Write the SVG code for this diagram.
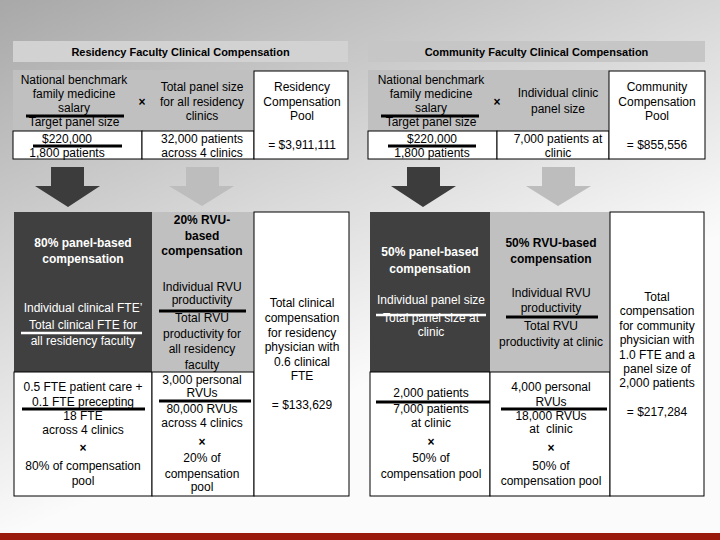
<svg xmlns="http://www.w3.org/2000/svg" width="720" height="540" viewBox="0 0 720 540">
<defs>
<linearGradient id="bg" x1="0" y1="0" x2="193" y2="459" gradientUnits="userSpaceOnUse">
<stop offset="0" stop-color="#a8a8a8"/>
<stop offset="0.6" stop-color="#dadada"/>
<stop offset="1" stop-color="#fbfbfb"/>
</linearGradient>
</defs>
<style>
text{font-family:"Liberation Sans",Arial,sans-serif;font-size:12px;text-anchor:middle;fill:#000}
.t{font-size:11px;font-weight:bold}
.b{font-weight:bold}
.w{fill:#fff}
.gray{fill:#c0c0c0}
.dark{fill:#404040}
.cell{fill:#fff;stroke:#000;stroke-width:1}
.fl{stroke:#000;stroke-width:3}
.flw{stroke:#fff;stroke-width:2.5}
.x{font-weight:bold;font-size:12px}
</style>
<rect width="720" height="540" fill="url(#bg)"/>
<rect x="0" y="533" width="720" height="7" fill="#9a1a0c"/>

<g id="left-header"><rect x="13" y="41" width="335" height="21" fill="#d2d2d2"/><text class="t" x="180.5" y="56">Residency Faculty Clinical Compensation</text></g>
<g id="right-header"><rect x="368" y="41" width="337" height="21" fill="#c6c6c6"/><text class="t" x="536.5" y="56">Community Faculty Clinical Compensation</text></g>

<g id="left-top">
<rect class="gray" x="13" y="70" width="241" height="61"/>
<text x="74" y="84">National benchmark</text><text x="74" y="98">family medicine</text><text x="74" y="112">salary</text><text x="74" y="126">Target panel size</text>
<line class="fl" x1="26" y1="116" x2="124" y2="116"/>
<text class="x" x="142" y="106">×</text>
<text x="202" y="91">Total panel size</text><text x="202" y="105.5">for all residency</text><text x="202" y="120">clinics</text>
<rect class="cell" x="13" y="131" width="129" height="28"/><rect class="cell" x="142" y="131" width="112" height="28"/>
<text x="67" y="143">$220,000</text><line class="fl" x1="33" y1="146" x2="122" y2="146"/><text x="67" y="157">1,800 patients</text>
<text x="202" y="143">32,000 patients</text><text x="202" y="157">across 4 clinics</text>
</g>
<g id="left-pool">
<rect class="cell" x="254" y="71" width="94" height="88"/>
<text x="302" y="91">Residency</text><text x="302" y="105.5">Compensation</text><text x="302" y="120">Pool</text>
<text x="302" y="149">= $3,911,111</text>
</g>

<g id="right-top">
<rect class="gray" x="368" y="70" width="241" height="61"/>
<text x="431" y="84">National benchmark</text><text x="431" y="98">family medicine</text><text x="431" y="112">salary</text><text x="431" y="126">Target panel size</text>
<line class="fl" x1="381" y1="116" x2="479" y2="116"/>
<text class="x" x="497" y="106">×</text>
<text x="558" y="97">Individual clinic</text><text x="558" y="113">panel size</text>
<rect class="cell" x="368" y="131" width="129" height="28"/><rect class="cell" x="497" y="131" width="112" height="28"/>
<text x="432" y="143">$220,000</text><line class="fl" x1="388" y1="146" x2="476" y2="146"/><text x="432" y="157">1,800 patients</text>
<text x="558" y="143">7,000 patients at</text><text x="558" y="157">clinic</text>
</g>
<g id="right-pool">
<rect class="cell" x="609" y="71" width="96" height="88"/>
<text x="657" y="91">Community</text><text x="657" y="105.5">Compensation</text><text x="657" y="120">Pool</text>
<text x="657" y="149">= $855,556</text>
</g>

<g id="connectors">
<polygon fill="#3c3c3c" points="51,167 84,167 84,186 100,186 68,207 35,186 51,186"/>
<polygon fill="#bdbdbd" points="186,167 219,167 219,186 234,186 202,206 169,186 186,186"/>
<polygon fill="#3c3c3c" points="407,167 440,167 440,186 456,186 423,207 391,186 407,186"/>
<polygon fill="#bdbdbd" points="542,167 575,167 575,186 591,186 558,206 526,186 542,186"/>
</g>

<g id="left-panel">
<rect class="dark" x="14" y="212" width="138" height="160"/>
<text class="b w" x="83" y="247">80% panel-based</text><text class="b w" x="83" y="263">compensation</text>
<text class="w" x="83" y="312">Individual clinical FTE’</text><text class="w" x="83" y="329">Total clinical FTE for</text>
<line class="flw" x1="21" y1="333" x2="142" y2="333"/>
<text class="w" x="83" y="345">all residency faculty</text>
<rect class="cell" x="14" y="372" width="138" height="124"/>
<text x="83" y="391">0.5 FTE patient care +</text><text x="83" y="406">0.1 FTE precepting</text>
<line class="fl" x1="22" y1="409" x2="145" y2="409"/>
<text x="83" y="420">18 FTE</text><text x="83" y="434">across 4 clinics</text>
<text class="x" x="83" y="452">×</text>
<text x="83" y="470">80% of compensation</text><text x="83" y="485">pool</text>
</g>
<g id="left-rvu">
<rect class="gray" x="152" y="212" width="102" height="160"/>
<text class="b" x="202" y="224">20% RVU-</text><text class="b" x="202" y="239.5">based</text><text class="b" x="202" y="255">compensation</text>
<text x="202" y="291">Individual RVU</text><text x="202" y="304">productivity</text>
<line class="fl" x1="159" y1="311" x2="246" y2="311"/>
<text x="202" y="322">Total RVU</text><text x="202" y="338">productivity for</text><text x="202" y="353">all residency</text><text x="202" y="369">faculty</text>
<rect class="cell" x="152" y="372" width="102" height="124"/>
<text x="202" y="384">3,000 personal</text><text x="202" y="397">RVUs</text>
<line class="fl" x1="159" y1="401" x2="251" y2="401"/>
<text x="202" y="413">80,000 RVUs</text><text x="202" y="427">across 4 clinics</text>
<text class="x" x="202" y="446">×</text>
<text x="202" y="462">20% of</text><text x="202" y="478">compensation</text><text x="202" y="491">pool</text>
</g>
<g id="left-total">
<rect class="cell" x="254" y="212" width="95" height="284"/>
<text x="302" y="307">Total clinical</text><text x="302" y="322">compensation</text><text x="302" y="337">for residency</text><text x="302" y="351">physician with</text><text x="302" y="366">0.6 clinical</text><text x="302" y="380">FTE</text>
<text x="302" y="409">= $133,629</text>
</g>

<g id="right-panel">
<rect class="dark" x="370" y="212" width="120" height="160"/>
<text class="b w" x="430" y="256">50% panel-based</text><text class="b w" x="430" y="273">compensation</text>
<text class="w" x="431" y="304">Individual panel size</text><text class="w" x="431" y="322">Total panel size at</text>
<line class="flw" x1="376" y1="315" x2="486" y2="315"/>
<text class="w" x="431" y="336">clinic</text>
<rect class="cell" x="370" y="372" width="120" height="124"/>
<text x="431" y="397">2,000 patients</text>
<line class="fl" x1="376" y1="402" x2="490" y2="402"/>
<text x="431" y="413">7,000 patients</text><text x="431" y="427">at clinic</text>
<text class="x" x="431" y="446">×</text>
<text x="431" y="462">50% of</text><text x="431" y="478">compensation pool</text>
</g>
<g id="right-rvu">
<rect class="gray" x="490" y="212" width="120" height="160"/>
<text class="b" x="551" y="247">50% RVU-based</text><text class="b" x="551" y="263">compensation</text>
<text x="551" y="297">Individual RVU</text><text x="551" y="312">productivity</text>
<line class="fl" x1="506" y1="317" x2="598" y2="317"/>
<text x="551" y="330">Total RVU</text><text x="551" y="346">productivity at clinic</text>
<rect class="cell" x="490" y="372" width="120" height="124"/>
<text x="551" y="391">4,000 personal</text><text x="551" y="406">RVUs</text>
<line class="fl" x1="501" y1="409" x2="607" y2="409"/>
<text x="551" y="420">18,000 RVUs</text><text x="551" y="433" xml:space="preserve">at  clinic</text>
<text class="x" x="551" y="452">×</text>
<text x="551" y="470">50% of</text><text x="551" y="485">compensation pool</text>
</g>
<g id="right-total">
<rect class="cell" x="610" y="212" width="94" height="284"/>
<text x="657" y="301">Total</text><text x="657" y="315">compensation</text><text x="657" y="330">for community</text><text x="657" y="344">physician with</text><text x="657" y="359">1.0 FTE and a</text><text x="657" y="373">panel size of</text><text x="657" y="387">2,000 patients</text>
<text x="657" y="416">= $217,284</text>
</g>
</svg>
